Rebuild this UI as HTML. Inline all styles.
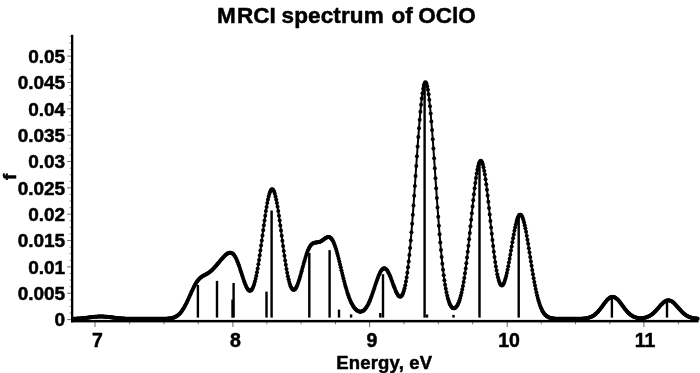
<!DOCTYPE html><html><head><meta charset="utf-8"><title>MRCI spectrum of OClO</title><style>html,body{margin:0;padding:0;background:#fff}svg{display:block}text{font-family:"Liberation Sans",sans-serif;font-weight:bold;fill:#000}</style></head><body>
<svg width="700" height="373" viewBox="0 0 700 373">
<rect width="700" height="373" fill="#fff"/>
<text y="23.4" font-size="22.5" stroke="#000" stroke-width="0.5" stroke-linejoin="round"><tspan x="217.0">M</tspan><tspan x="237.0">RCI</tspan> <tspan x="281.6" letter-spacing="0.12">spectrum</tspan> <tspan x="391.6">of</tspan> <tspan x="418.3">OClO</tspan></text>
<rect x="67.2" y="319.10" width="4" height="1" fill="#666"/>
<text x="65.2" y="326.30" font-size="19" text-anchor="end" stroke="#000" stroke-width="0.5" stroke-linejoin="round">0</text>
<rect x="67.2" y="292.75" width="4" height="1" fill="#666"/>
<text x="65.2" y="299.95" font-size="19" text-anchor="end" stroke="#000" stroke-width="0.5" stroke-linejoin="round">0.005</text>
<rect x="67.2" y="266.40" width="4" height="1" fill="#666"/>
<text x="65.2" y="273.60" font-size="19" text-anchor="end" stroke="#000" stroke-width="0.5" stroke-linejoin="round">0.01</text>
<rect x="67.2" y="240.05" width="4" height="1" fill="#666"/>
<text x="65.2" y="247.25" font-size="19" text-anchor="end" stroke="#000" stroke-width="0.5" stroke-linejoin="round">0.015</text>
<rect x="67.2" y="213.70" width="4" height="1" fill="#666"/>
<text x="65.2" y="220.90" font-size="19" text-anchor="end" stroke="#000" stroke-width="0.5" stroke-linejoin="round">0.02</text>
<rect x="67.2" y="187.35" width="4" height="1" fill="#666"/>
<text x="65.2" y="194.55" font-size="19" text-anchor="end" stroke="#000" stroke-width="0.5" stroke-linejoin="round">0.025</text>
<rect x="67.2" y="161.00" width="4" height="1" fill="#666"/>
<text x="65.2" y="168.20" font-size="19" text-anchor="end" stroke="#000" stroke-width="0.5" stroke-linejoin="round">0.03</text>
<rect x="67.2" y="134.65" width="4" height="1" fill="#666"/>
<text x="65.2" y="141.85" font-size="19" text-anchor="end" stroke="#000" stroke-width="0.5" stroke-linejoin="round">0.035</text>
<rect x="67.2" y="108.30" width="4" height="1" fill="#666"/>
<text x="65.2" y="115.50" font-size="19" text-anchor="end" stroke="#000" stroke-width="0.5" stroke-linejoin="round">0.04</text>
<rect x="67.2" y="81.95" width="4" height="1" fill="#666"/>
<text x="65.2" y="89.15" font-size="19" text-anchor="end" stroke="#000" stroke-width="0.5" stroke-linejoin="round">0.045</text>
<rect x="67.2" y="55.60" width="4" height="1" fill="#666"/>
<text x="65.2" y="62.80" font-size="19" text-anchor="end" stroke="#000" stroke-width="0.5" stroke-linejoin="round">0.05</text>
<rect x="69.5" y="312.51" width="1.6" height="1" fill="#888"/>
<rect x="69.5" y="305.93" width="1.6" height="1" fill="#888"/>
<rect x="69.5" y="299.34" width="1.6" height="1" fill="#888"/>
<rect x="69.5" y="286.16" width="1.6" height="1" fill="#888"/>
<rect x="69.5" y="279.58" width="1.6" height="1" fill="#888"/>
<rect x="69.5" y="272.99" width="1.6" height="1" fill="#888"/>
<rect x="69.5" y="259.81" width="1.6" height="1" fill="#888"/>
<rect x="69.5" y="253.23" width="1.6" height="1" fill="#888"/>
<rect x="69.5" y="246.64" width="1.6" height="1" fill="#888"/>
<rect x="69.5" y="233.46" width="1.6" height="1" fill="#888"/>
<rect x="69.5" y="226.88" width="1.6" height="1" fill="#888"/>
<rect x="69.5" y="220.29" width="1.6" height="1" fill="#888"/>
<rect x="69.5" y="207.11" width="1.6" height="1" fill="#888"/>
<rect x="69.5" y="200.53" width="1.6" height="1" fill="#888"/>
<rect x="69.5" y="193.94" width="1.6" height="1" fill="#888"/>
<rect x="69.5" y="180.76" width="1.6" height="1" fill="#888"/>
<rect x="69.5" y="174.18" width="1.6" height="1" fill="#888"/>
<rect x="69.5" y="167.59" width="1.6" height="1" fill="#888"/>
<rect x="69.5" y="154.41" width="1.6" height="1" fill="#888"/>
<rect x="69.5" y="147.83" width="1.6" height="1" fill="#888"/>
<rect x="69.5" y="141.24" width="1.6" height="1" fill="#888"/>
<rect x="69.5" y="128.06" width="1.6" height="1" fill="#888"/>
<rect x="69.5" y="121.48" width="1.6" height="1" fill="#888"/>
<rect x="69.5" y="114.89" width="1.6" height="1" fill="#888"/>
<rect x="69.5" y="101.71" width="1.6" height="1" fill="#888"/>
<rect x="69.5" y="95.12" width="1.6" height="1" fill="#888"/>
<rect x="69.5" y="88.54" width="1.6" height="1" fill="#888"/>
<rect x="69.5" y="75.36" width="1.6" height="1" fill="#888"/>
<rect x="69.5" y="68.78" width="1.6" height="1" fill="#888"/>
<rect x="69.5" y="62.19" width="1.6" height="1" fill="#888"/>
<rect x="69.5" y="49.01" width="1.6" height="1" fill="#888"/>
<rect x="69.5" y="42.43" width="1.6" height="1" fill="#888"/>
<rect x="69.5" y="35.84" width="1.6" height="1" fill="#888"/>
<rect x="94.50" y="322" width="1" height="5" fill="#666"/>
<text x="97.35" y="346.5" font-size="19.5" text-anchor="middle" stroke="#000" stroke-width="0.5" stroke-linejoin="round">7</text>
<rect x="232.40" y="322" width="1" height="5" fill="#666"/>
<text x="235.50" y="346.5" font-size="19.5" text-anchor="middle" stroke="#000" stroke-width="0.5" stroke-linejoin="round">8</text>
<rect x="369.10" y="322" width="1" height="5" fill="#666"/>
<text x="371.95" y="346.5" font-size="19.5" text-anchor="middle" stroke="#000" stroke-width="0.5" stroke-linejoin="round">9</text>
<rect x="506.70" y="322" width="1" height="5" fill="#666"/>
<text x="509.00" y="346.5" font-size="19.5" text-anchor="middle" stroke="#000" stroke-width="0.5" stroke-linejoin="round">10</text>
<rect x="643.40" y="322" width="1" height="5" fill="#666"/>
<text x="645.10" y="346.5" font-size="19.5" text-anchor="middle" stroke="#000" stroke-width="0.5" stroke-linejoin="round">11</text>
<rect x="129.13" y="322" width="1" height="2.3" fill="#777"/>
<rect x="163.43" y="322" width="1" height="2.3" fill="#777"/>
<rect x="197.73" y="322" width="1" height="2.3" fill="#777"/>
<rect x="266.33" y="322" width="1" height="2.3" fill="#777"/>
<rect x="300.63" y="322" width="1" height="2.3" fill="#777"/>
<rect x="334.93" y="322" width="1" height="2.3" fill="#777"/>
<rect x="403.53" y="322" width="1" height="2.3" fill="#777"/>
<rect x="437.83" y="322" width="1" height="2.3" fill="#777"/>
<rect x="472.13" y="322" width="1" height="2.3" fill="#777"/>
<rect x="540.73" y="322" width="1" height="2.3" fill="#777"/>
<rect x="575.03" y="322" width="1" height="2.3" fill="#777"/>
<rect x="609.33" y="322" width="1" height="2.3" fill="#777"/>
<rect x="677.93" y="322" width="1" height="2.3" fill="#777"/>
<text x="336.3" y="368.8" font-size="18.5" textLength="95.8" lengthAdjust="spacing" stroke="#000" stroke-width="0.5" stroke-linejoin="round">Energy, eV</text>
<text transform="translate(16.3,179.9) rotate(-90)" font-size="19" stroke="#000" stroke-width="0.5" stroke-linejoin="round">f</text>
<rect x="71" y="34.8" width="2.3" height="287.5" fill="#000"/>
<rect x="71" y="319.9" width="627.5" height="2.5" fill="#000"/>
<rect x="196.70" y="284.90" width="2.4" height="32.70" fill="#000"/>
<rect x="215.80" y="280.90" width="2.4" height="36.70" fill="#000"/>
<rect x="231.30" y="299.60" width="2.4" height="18.00" fill="#000"/>
<rect x="232.40" y="283.00" width="2.4" height="34.60" fill="#000"/>
<rect x="265.30" y="291.60" width="2.4" height="26.00" fill="#000"/>
<rect x="270.40" y="210.50" width="2.4" height="107.10" fill="#000"/>
<rect x="308.10" y="252.80" width="2.4" height="64.80" fill="#000"/>
<rect x="328.40" y="250.10" width="2.4" height="67.50" fill="#000"/>
<rect x="337.80" y="309.60" width="2.4" height="8.00" fill="#000"/>
<rect x="349.90" y="314.40" width="2.4" height="3.20" fill="#000"/>
<rect x="379.10" y="313.00" width="2.4" height="4.60" fill="#000"/>
<rect x="381.80" y="274.20" width="2.4" height="43.40" fill="#000"/>
<rect x="423.40" y="86.50" width="2.4" height="231.10" fill="#000"/>
<rect x="425.80" y="314.50" width="2.4" height="3.10" fill="#000"/>
<rect x="452.30" y="314.90" width="2.4" height="2.70" fill="#000"/>
<rect x="478.30" y="161.50" width="2.4" height="156.10" fill="#000"/>
<rect x="517.50" y="215.00" width="2.4" height="102.60" fill="#000"/>
<rect x="610.70" y="297.50" width="2.4" height="20.10" fill="#000"/>
<rect x="665.80" y="300.80" width="2.4" height="16.80" fill="#000"/>
<polyline fill="none" stroke="#000" stroke-width="2" stroke-linejoin="round" points="73.00,318.75 73.69,318.73 74.37,318.71 75.06,318.69 75.75,318.66 76.43,318.63 77.12,318.60 77.81,318.56 78.49,318.52 79.18,318.48 79.86,318.43 80.55,318.38 81.24,318.33 81.92,318.27 82.61,318.20 83.30,318.14 83.98,318.06 84.67,317.99 85.36,317.91 86.04,317.83 86.73,317.75 87.42,317.67 88.10,317.58 88.79,317.49 89.48,317.41 90.16,317.32 90.85,317.24 91.54,317.15 92.22,317.07 92.91,316.99 93.59,316.92 94.28,316.85 94.97,316.79 95.65,316.73 96.34,316.67 97.03,316.63 97.71,316.59 98.40,316.56 99.09,316.53 99.77,316.52 100.46,316.51 101.15,316.51 101.83,316.52 102.52,316.54 103.21,316.56 103.89,316.60 104.58,316.64 105.27,316.68 105.95,316.74 106.64,316.80 107.32,316.86 108.01,316.93 108.70,317.01 109.38,317.08 110.07,317.16 110.76,317.25 111.44,317.33 112.13,317.42 112.82,317.51 113.50,317.59 114.19,317.68 114.88,317.76 115.56,317.85 116.25,317.93 116.94,318.00 117.62,318.08 118.31,318.15 119.00,318.21 119.68,318.28 120.37,318.34 121.05,318.39 121.74,318.44 122.43,318.49 123.11,318.53 123.80,318.57 124.49,318.61 125.17,318.64 125.86,318.67 126.55,318.69 127.23,318.71 127.92,318.73 128.61,318.75 129.29,318.77 129.98,318.78 130.67,318.79 131.35,318.80 132.04,318.81 132.73,318.82 133.41,318.82 134.10,318.83 134.78,318.83 135.47,318.83 136.16,318.84 136.84,318.84 137.53,318.84 138.22,318.84 138.90,318.85 139.59,318.85 140.28,318.85 140.96,318.85 141.65,318.85 142.34,318.85 143.02,318.85 143.71,318.85 144.40,318.85 145.08,318.85 145.77,318.85 146.46,318.85 147.14,318.85 147.83,318.85 148.51,318.85 149.20,318.85 149.89,318.85 150.57,318.85 151.26,318.85 151.95,318.85 152.63,318.85 153.32,318.85 154.01,318.85 154.69,318.85 155.38,318.85 156.07,318.85 156.75,318.85 157.44,318.85 158.13,318.84 158.81,318.84 159.50,318.84 160.19,318.83 160.87,318.83 161.56,318.82 162.24,318.82 162.93,318.81 163.62,318.79 164.30,318.78 164.99,318.76 165.68,318.73 166.36,318.70 167.05,318.66 167.74,318.61 168.42,318.56 169.11,318.49 169.80,318.40 170.48,318.30 171.17,318.18 171.86,318.04 172.54,317.87 173.23,317.67 173.92,317.44 174.60,317.17 175.29,316.86 175.97,316.51 176.66,316.10 177.35,315.64 178.03,315.12 178.72,314.54 179.41,313.89 180.09,313.18 180.78,312.39 181.47,311.52 182.15,310.58 182.84,309.56 183.53,308.47 184.21,307.30 184.90,306.07 185.59,304.76 186.27,303.40 186.96,301.98 187.65,300.52 188.33,299.02 189.02,297.50 189.70,295.96 190.39,294.41 191.08,292.88 191.76,291.37 192.45,289.89 193.14,288.45 193.82,287.07 194.51,285.75 195.20,284.51 195.88,283.34 196.57,282.25 197.26,281.26 197.94,280.35 198.63,279.52 199.32,278.78 200.00,278.12 200.69,277.53 201.38,277.00 202.06,276.53 202.75,276.10 203.43,275.71 204.12,275.33 204.81,274.98 205.49,274.62 206.18,274.25 206.87,273.87 207.55,273.47 208.24,273.03 208.93,272.57 209.61,272.06 210.30,271.52 210.99,270.93 211.67,270.31 212.36,269.65 213.05,268.96 213.73,268.24 214.42,267.50 215.11,266.73 215.79,265.95 216.48,265.15 217.16,264.34 217.85,263.53 218.54,262.72 219.22,261.90 219.91,261.09 220.60,260.29 221.28,259.49 221.97,258.71 222.66,257.94 223.34,257.20 224.03,256.48 224.72,255.79 225.40,255.15 226.09,254.56 226.78,254.02 227.46,253.56 228.15,253.18 228.84,252.89 229.52,252.71 230.21,252.66 230.89,252.73 231.58,252.95 232.27,253.33 232.95,253.86 233.64,254.57 234.33,255.44 235.01,256.49 235.70,257.71 236.39,259.10 237.07,260.64 237.76,262.32 238.45,264.14 239.13,266.07 239.82,268.09 240.51,270.18 241.19,272.31 241.88,274.45 242.57,276.59 243.25,278.68 243.94,280.69 244.62,282.61 245.31,284.39 246.00,286.01 246.68,287.44 247.37,288.65 248.06,289.61 248.74,290.30 249.43,290.71 250.12,290.80 250.80,290.56 251.49,289.98 252.18,289.04 252.86,287.73 253.55,286.06 254.24,284.01 254.92,281.59 255.61,278.80 256.30,275.66 256.98,272.18 257.67,268.38 258.35,264.29 259.04,259.92 259.73,255.33 260.41,250.54 261.10,245.60 261.79,240.55 262.47,235.45 263.16,230.35 263.85,225.31 264.53,220.39 265.22,215.64 265.91,211.12 266.59,206.89 267.28,203.00 267.97,199.52 268.65,196.48 269.34,193.92 270.03,191.89 270.71,190.42 271.40,189.52 272.08,189.21 272.77,189.49 273.46,190.37 274.14,191.82 274.83,193.83 275.52,196.38 276.20,199.42 276.89,202.92 277.58,206.83 278.26,211.09 278.95,215.65 279.64,220.45 280.32,225.43 281.01,230.54 281.70,235.70 282.38,240.86 283.07,245.97 283.76,250.97 284.44,255.80 285.13,260.43 285.81,264.82 286.50,268.92 287.19,272.70 287.87,276.15 288.56,279.23 289.25,281.93 289.93,284.24 290.62,286.15 291.31,287.66 291.99,288.77 292.68,289.49 293.37,289.83 294.05,289.79 294.74,289.40 295.43,288.67 296.11,287.63 296.80,286.30 297.49,284.70 298.17,282.87 298.86,280.84 299.55,278.63 300.23,276.29 300.92,273.85 301.60,271.33 302.29,268.78 302.98,266.23 303.66,263.72 304.35,261.26 305.04,258.90 305.72,256.66 306.41,254.55 307.10,252.61 307.78,250.84 308.47,249.25 309.16,247.85 309.84,246.64 310.53,245.62 311.22,244.78 311.90,244.10 312.59,243.58 313.28,243.18 313.96,242.90 314.65,242.71 315.33,242.58 316.02,242.49 316.71,242.41 317.39,242.34 318.08,242.24 318.77,242.10 319.45,241.92 320.14,241.67 320.83,241.36 321.51,241.00 322.20,240.57 322.89,240.11 323.57,239.61 324.26,239.10 324.95,238.59 325.63,238.12 326.32,237.70 327.01,237.36 327.69,237.12 328.38,237.02 329.06,237.07 329.75,237.30 330.44,237.71 331.12,238.33 331.81,239.17 332.50,240.23 333.18,241.52 333.87,243.03 334.56,244.75 335.24,246.68 335.93,248.80 336.62,251.10 337.30,253.54 337.99,256.12 338.68,258.81 339.36,261.58 340.05,264.41 340.74,267.28 341.42,270.15 342.11,273.01 342.79,275.83 343.48,278.61 344.17,281.30 344.85,283.92 345.54,286.43 346.23,288.83 346.91,291.12 347.60,293.28 348.29,295.31 348.97,297.22 349.66,298.99 350.35,300.63 351.03,302.14 351.72,303.53 352.41,304.80 353.09,305.95 353.78,306.99 354.47,307.92 355.15,308.74 355.84,309.45 356.52,310.07 357.21,310.58 357.90,311.00 358.58,311.31 359.27,311.53 359.96,311.65 360.64,311.66 361.33,311.57 362.02,311.37 362.70,311.05 363.39,310.63 364.08,310.08 364.76,309.41 365.45,308.61 366.14,307.69 366.82,306.64 367.51,305.47 368.20,304.16 368.88,302.74 369.57,301.19 370.25,299.53 370.94,297.77 371.63,295.92 372.31,293.99 373.00,292.00 373.69,289.95 374.37,287.88 375.06,285.81 375.75,283.75 376.43,281.72 377.12,279.76 377.81,277.88 378.49,276.12 379.18,274.48 379.87,273.00 380.55,271.70 381.24,270.58 381.93,269.68 382.61,269.00 383.30,268.55 383.98,268.34 384.67,268.37 385.36,268.64 386.04,269.14 386.73,269.87 387.42,270.81 388.10,271.95 388.79,273.27 389.48,274.76 390.16,276.37 390.85,278.10 391.54,279.90 392.22,281.76 392.91,283.64 393.60,285.50 394.28,287.33 394.97,289.08 395.66,290.73 396.34,292.24 397.03,293.58 397.71,294.72 398.40,295.63 399.09,296.27 399.77,296.62 400.46,296.64 401.15,296.31 401.83,295.59 402.52,294.45 403.21,292.87 403.89,290.82 404.58,288.27 405.27,285.20 405.95,281.59 406.64,277.43 407.33,272.69 408.01,267.37 408.70,261.48 409.39,255.01 410.07,247.98 410.76,240.40 411.44,232.32 412.13,223.77 412.82,214.80 413.50,205.47 414.19,195.86 414.88,186.03 415.56,176.08 416.25,166.11 416.94,156.22 417.62,146.52 418.31,137.12 419.00,128.13 419.68,119.67 420.37,111.84 421.06,104.75 421.74,98.50 422.43,93.16 423.12,88.83 423.80,85.56 424.49,83.40 425.17,82.37 425.86,82.50 426.55,83.79 427.23,86.20 427.92,89.72 428.61,94.28 429.29,99.82 429.98,106.27 430.67,113.52 431.35,121.50 432.04,130.08 432.73,139.16 433.41,148.62 434.10,158.37 434.79,168.28 435.47,178.24 436.16,188.17 436.85,197.97 437.53,207.55 438.22,216.84 438.90,225.78 439.59,234.30 440.28,242.38 440.96,249.97 441.65,257.06 442.34,263.63 443.02,269.67 443.71,275.19 444.40,280.19 445.08,284.70 445.77,288.72 446.46,292.29 447.14,295.43 447.83,298.15 448.52,300.50 449.20,302.49 449.89,304.15 450.58,305.51 451.26,306.58 451.95,307.38 452.63,307.92 453.32,308.23 454.01,308.30 454.69,308.13 455.38,307.74 456.07,307.12 456.75,306.26 457.44,305.16 458.13,303.79 458.81,302.17 459.50,300.25 460.19,298.05 460.87,295.53 461.56,292.69 462.25,289.51 462.93,285.99 463.62,282.12 464.31,277.90 464.99,273.32 465.68,268.40 466.36,263.16 467.05,257.60 467.74,251.76 468.42,245.66 469.11,239.37 469.80,232.91 470.48,226.34 471.17,219.72 471.86,213.13 472.54,206.62 473.23,200.28 473.92,194.17 474.60,188.37 475.29,182.96 475.98,178.00 476.66,173.57 477.35,169.72 478.04,166.51 478.72,163.98 479.41,162.18 480.09,161.13 480.78,160.84 481.47,161.33 482.15,162.57 482.84,164.56 483.53,167.25 484.21,170.63 484.90,174.62 485.59,179.19 486.27,184.25 486.96,189.74 487.65,195.59 488.33,201.72 489.02,208.05 489.71,214.50 490.39,221.00 491.08,227.46 491.77,233.83 492.45,240.02 493.14,245.98 493.82,251.66 494.51,257.00 495.20,261.96 495.88,266.51 496.57,270.61 497.26,274.23 497.94,277.36 498.63,279.99 499.32,282.10 500.00,283.69 500.69,284.77 501.38,285.33 502.06,285.38 502.75,284.94 503.44,284.02 504.12,282.65 504.81,280.83 505.50,278.62 506.18,276.02 506.87,273.08 507.55,269.83 508.24,266.32 508.93,262.58 509.61,258.67 510.30,254.64 510.99,250.54 511.67,246.41 512.36,242.33 513.05,238.34 513.73,234.50 514.42,230.86 515.11,227.48 515.79,224.41 516.48,221.70 517.17,219.37 517.85,217.48 518.54,216.05 519.23,215.09 519.91,214.64 520.60,214.70 521.28,215.26 521.97,216.32 522.66,217.86 523.34,219.86 524.03,222.30 524.72,225.14 525.40,228.35 526.09,231.86 526.78,235.66 527.46,239.67 528.15,243.86 528.84,248.18 529.52,252.57 530.21,257.00 530.90,261.41 531.58,265.77 532.27,270.03 532.96,274.18 533.64,278.17 534.33,281.99 535.01,285.61 535.70,289.02 536.39,292.22 537.07,295.19 537.76,297.93 538.45,300.44 539.13,302.73 539.82,304.81 540.51,306.67 541.19,308.34 541.88,309.83 542.57,311.14 543.25,312.30 543.94,313.31 544.63,314.18 545.31,314.94 546.00,315.59 546.69,316.15 547.37,316.62 548.06,317.02 548.74,317.35 549.43,317.63 550.12,317.86 550.80,318.06 551.49,318.21 552.18,318.34 552.86,318.45 553.55,318.53 554.24,318.60 554.92,318.65 555.61,318.70 556.30,318.73 556.98,318.76 557.67,318.78 558.36,318.80 559.04,318.81 559.73,318.82 560.42,318.83 561.10,318.83 561.79,318.84 562.47,318.84 563.16,318.84 563.85,318.84 564.53,318.85 565.22,318.85 565.91,318.85 566.59,318.85 567.28,318.85 567.97,318.85 568.65,318.85 569.34,318.85 570.03,318.85 570.71,318.85 571.40,318.85 572.09,318.85 572.77,318.84 573.46,318.84 574.15,318.84 574.83,318.84 575.52,318.83 576.20,318.83 576.89,318.82 577.58,318.81 578.26,318.80 578.95,318.79 579.64,318.77 580.32,318.75 581.01,318.73 581.70,318.70 582.38,318.66 583.07,318.62 583.76,318.56 584.44,318.50 585.13,318.42 585.82,318.32 586.50,318.22 587.19,318.09 587.88,317.94 588.56,317.76 589.25,317.56 589.93,317.33 590.62,317.07 591.31,316.77 591.99,316.44 592.68,316.06 593.37,315.64 594.05,315.18 594.74,314.67 595.43,314.11 596.11,313.51 596.80,312.85 597.49,312.15 598.17,311.41 598.86,310.62 599.55,309.79 600.23,308.93 600.92,308.04 601.61,307.13 602.29,306.20 602.98,305.26 603.66,304.33 604.35,303.41 605.04,302.52 605.72,301.65 606.41,300.83 607.10,300.06 607.78,299.35 608.47,298.72 609.16,298.17 609.84,297.70 610.53,297.34 611.22,297.07 611.90,296.91 612.59,296.85 613.28,296.90 613.96,297.06 614.65,297.33 615.34,297.69 616.02,298.15 616.71,298.70 617.39,299.33 618.08,300.04 618.77,300.80 619.45,301.62 620.14,302.49 620.83,303.38 621.51,304.30 622.20,305.23 622.89,306.17 623.57,307.10 624.26,308.01 624.95,308.90 625.63,309.76 626.32,310.59 627.01,311.38 627.69,312.13 628.38,312.83 629.07,313.48 629.75,314.09 630.44,314.64 631.12,315.15 631.81,315.61 632.50,316.03 633.18,316.40 633.87,316.73 634.56,317.01 635.24,317.26 635.93,317.48 636.62,317.66 637.30,317.81 637.99,317.93 638.68,318.03 639.36,318.09 640.05,318.13 640.74,318.15 641.42,318.14 642.11,318.11 642.80,318.05 643.48,317.97 644.17,317.86 644.85,317.72 645.54,317.55 646.23,317.36 646.91,317.13 647.60,316.87 648.29,316.57 648.97,316.23 649.66,315.86 650.35,315.45 651.03,314.99 651.72,314.50 652.41,313.96 653.09,313.38 653.78,312.77 654.47,312.12 655.15,311.43 655.84,310.71 656.53,309.97 657.21,309.21 657.90,308.43 658.58,307.65 659.27,306.86 659.96,306.08 660.64,305.32 661.33,304.59 662.02,303.89 662.70,303.23 663.39,302.62 664.08,302.07 664.76,301.58 665.45,301.17 666.14,300.84 666.82,300.59 667.51,300.43 668.20,300.35 668.88,300.37 669.57,300.48 670.26,300.68 670.94,300.96 671.63,301.33 672.31,301.77 673.00,302.28 673.69,302.86 674.37,303.49 675.06,304.17 675.75,304.88 676.43,305.63 677.12,306.40 677.81,307.18 678.49,307.96 679.18,308.75 679.87,309.52 680.55,310.27 681.24,311.01 681.93,311.71 682.61,312.39 683.30,313.02 683.99,313.63 684.67,314.19 685.36,314.71 686.04,315.19 686.73,315.63 687.42,316.04 688.10,316.40 688.79,316.73 689.48,317.02 690.16,317.28 690.85,317.51 691.54,317.71 692.22,317.89 692.91,318.04 693.60,318.17 694.28,318.28 694.97,318.38 695.66,318.46 696.34,318.53 697.03,318.59 697.72,318.64"/>
<g fill="#000">
<circle cx="73.00" cy="318.75" r="2"/>
<circle cx="73.69" cy="318.73" r="2"/>
<circle cx="74.37" cy="318.71" r="2"/>
<circle cx="75.06" cy="318.69" r="2"/>
<circle cx="75.75" cy="318.66" r="2"/>
<circle cx="76.43" cy="318.63" r="2"/>
<circle cx="77.12" cy="318.60" r="2"/>
<circle cx="77.81" cy="318.56" r="2"/>
<circle cx="78.49" cy="318.52" r="2"/>
<circle cx="79.18" cy="318.48" r="2"/>
<circle cx="79.86" cy="318.43" r="2"/>
<circle cx="80.55" cy="318.38" r="2"/>
<circle cx="81.24" cy="318.33" r="2"/>
<circle cx="81.92" cy="318.27" r="2"/>
<circle cx="82.61" cy="318.20" r="2"/>
<circle cx="83.30" cy="318.14" r="2"/>
<circle cx="83.98" cy="318.06" r="2"/>
<circle cx="84.67" cy="317.99" r="2"/>
<circle cx="85.36" cy="317.91" r="2"/>
<circle cx="86.04" cy="317.83" r="2"/>
<circle cx="86.73" cy="317.75" r="2"/>
<circle cx="87.42" cy="317.67" r="2"/>
<circle cx="88.10" cy="317.58" r="2"/>
<circle cx="88.79" cy="317.49" r="2"/>
<circle cx="89.48" cy="317.41" r="2"/>
<circle cx="90.16" cy="317.32" r="2"/>
<circle cx="90.85" cy="317.24" r="2"/>
<circle cx="91.54" cy="317.15" r="2"/>
<circle cx="92.22" cy="317.07" r="2"/>
<circle cx="92.91" cy="316.99" r="2"/>
<circle cx="93.59" cy="316.92" r="2"/>
<circle cx="94.28" cy="316.85" r="2"/>
<circle cx="94.97" cy="316.79" r="2"/>
<circle cx="95.65" cy="316.73" r="2"/>
<circle cx="96.34" cy="316.67" r="2"/>
<circle cx="97.03" cy="316.63" r="2"/>
<circle cx="97.71" cy="316.59" r="2"/>
<circle cx="98.40" cy="316.56" r="2"/>
<circle cx="99.09" cy="316.53" r="2"/>
<circle cx="99.77" cy="316.52" r="2"/>
<circle cx="100.46" cy="316.51" r="2"/>
<circle cx="101.15" cy="316.51" r="2"/>
<circle cx="101.83" cy="316.52" r="2"/>
<circle cx="102.52" cy="316.54" r="2"/>
<circle cx="103.21" cy="316.56" r="2"/>
<circle cx="103.89" cy="316.60" r="2"/>
<circle cx="104.58" cy="316.64" r="2"/>
<circle cx="105.27" cy="316.68" r="2"/>
<circle cx="105.95" cy="316.74" r="2"/>
<circle cx="106.64" cy="316.80" r="2"/>
<circle cx="107.32" cy="316.86" r="2"/>
<circle cx="108.01" cy="316.93" r="2"/>
<circle cx="108.70" cy="317.01" r="2"/>
<circle cx="109.38" cy="317.08" r="2"/>
<circle cx="110.07" cy="317.16" r="2"/>
<circle cx="110.76" cy="317.25" r="2"/>
<circle cx="111.44" cy="317.33" r="2"/>
<circle cx="112.13" cy="317.42" r="2"/>
<circle cx="112.82" cy="317.51" r="2"/>
<circle cx="113.50" cy="317.59" r="2"/>
<circle cx="114.19" cy="317.68" r="2"/>
<circle cx="114.88" cy="317.76" r="2"/>
<circle cx="115.56" cy="317.85" r="2"/>
<circle cx="116.25" cy="317.93" r="2"/>
<circle cx="116.94" cy="318.00" r="2"/>
<circle cx="117.62" cy="318.08" r="2"/>
<circle cx="118.31" cy="318.15" r="2"/>
<circle cx="119.00" cy="318.21" r="2"/>
<circle cx="119.68" cy="318.28" r="2"/>
<circle cx="120.37" cy="318.34" r="2"/>
<circle cx="121.05" cy="318.39" r="2"/>
<circle cx="121.74" cy="318.44" r="2"/>
<circle cx="122.43" cy="318.49" r="2"/>
<circle cx="123.11" cy="318.53" r="2"/>
<circle cx="123.80" cy="318.57" r="2"/>
<circle cx="124.49" cy="318.61" r="2"/>
<circle cx="125.17" cy="318.64" r="2"/>
<circle cx="125.86" cy="318.67" r="2"/>
<circle cx="126.55" cy="318.69" r="2"/>
<circle cx="127.23" cy="318.71" r="2"/>
<circle cx="127.92" cy="318.73" r="2"/>
<circle cx="128.61" cy="318.75" r="2"/>
<circle cx="129.29" cy="318.77" r="2"/>
<circle cx="129.98" cy="318.78" r="2"/>
<circle cx="130.67" cy="318.79" r="2"/>
<circle cx="131.35" cy="318.80" r="2"/>
<circle cx="132.04" cy="318.81" r="2"/>
<circle cx="132.73" cy="318.82" r="2"/>
<circle cx="133.41" cy="318.82" r="2"/>
<circle cx="134.10" cy="318.83" r="2"/>
<circle cx="134.78" cy="318.83" r="2"/>
<circle cx="135.47" cy="318.83" r="2"/>
<circle cx="136.16" cy="318.84" r="2"/>
<circle cx="136.84" cy="318.84" r="2"/>
<circle cx="137.53" cy="318.84" r="2"/>
<circle cx="138.22" cy="318.84" r="2"/>
<circle cx="138.90" cy="318.85" r="2"/>
<circle cx="139.59" cy="318.85" r="2"/>
<circle cx="140.28" cy="318.85" r="2"/>
<circle cx="140.96" cy="318.85" r="2"/>
<circle cx="141.65" cy="318.85" r="2"/>
<circle cx="142.34" cy="318.85" r="2"/>
<circle cx="143.02" cy="318.85" r="2"/>
<circle cx="143.71" cy="318.85" r="2"/>
<circle cx="144.40" cy="318.85" r="2"/>
<circle cx="145.08" cy="318.85" r="2"/>
<circle cx="145.77" cy="318.85" r="2"/>
<circle cx="146.46" cy="318.85" r="2"/>
<circle cx="147.14" cy="318.85" r="2"/>
<circle cx="147.83" cy="318.85" r="2"/>
<circle cx="148.51" cy="318.85" r="2"/>
<circle cx="149.20" cy="318.85" r="2"/>
<circle cx="149.89" cy="318.85" r="2"/>
<circle cx="150.57" cy="318.85" r="2"/>
<circle cx="151.26" cy="318.85" r="2"/>
<circle cx="151.95" cy="318.85" r="2"/>
<circle cx="152.63" cy="318.85" r="2"/>
<circle cx="153.32" cy="318.85" r="2"/>
<circle cx="154.01" cy="318.85" r="2"/>
<circle cx="154.69" cy="318.85" r="2"/>
<circle cx="155.38" cy="318.85" r="2"/>
<circle cx="156.07" cy="318.85" r="2"/>
<circle cx="156.75" cy="318.85" r="2"/>
<circle cx="157.44" cy="318.85" r="2"/>
<circle cx="158.13" cy="318.84" r="2"/>
<circle cx="158.81" cy="318.84" r="2"/>
<circle cx="159.50" cy="318.84" r="2"/>
<circle cx="160.19" cy="318.83" r="2"/>
<circle cx="160.87" cy="318.83" r="2"/>
<circle cx="161.56" cy="318.82" r="2"/>
<circle cx="162.24" cy="318.82" r="2"/>
<circle cx="162.93" cy="318.81" r="2"/>
<circle cx="163.62" cy="318.79" r="2"/>
<circle cx="164.30" cy="318.78" r="2"/>
<circle cx="164.99" cy="318.76" r="2"/>
<circle cx="165.68" cy="318.73" r="2"/>
<circle cx="166.36" cy="318.70" r="2"/>
<circle cx="167.05" cy="318.66" r="2"/>
<circle cx="167.74" cy="318.61" r="2"/>
<circle cx="168.42" cy="318.56" r="2"/>
<circle cx="169.11" cy="318.49" r="2"/>
<circle cx="169.80" cy="318.40" r="2"/>
<circle cx="170.48" cy="318.30" r="2"/>
<circle cx="171.17" cy="318.18" r="2"/>
<circle cx="171.86" cy="318.04" r="2"/>
<circle cx="172.54" cy="317.87" r="2"/>
<circle cx="173.23" cy="317.67" r="2"/>
<circle cx="173.92" cy="317.44" r="2"/>
<circle cx="174.60" cy="317.17" r="2"/>
<circle cx="175.29" cy="316.86" r="2"/>
<circle cx="175.97" cy="316.51" r="2"/>
<circle cx="176.66" cy="316.10" r="2"/>
<circle cx="177.35" cy="315.64" r="2"/>
<circle cx="178.03" cy="315.12" r="2"/>
<circle cx="178.72" cy="314.54" r="2"/>
<circle cx="179.41" cy="313.89" r="2"/>
<circle cx="180.09" cy="313.18" r="2"/>
<circle cx="180.78" cy="312.39" r="2"/>
<circle cx="181.47" cy="311.52" r="2"/>
<circle cx="182.15" cy="310.58" r="2"/>
<circle cx="182.84" cy="309.56" r="2"/>
<circle cx="183.53" cy="308.47" r="2"/>
<circle cx="184.21" cy="307.30" r="2"/>
<circle cx="184.90" cy="306.07" r="2"/>
<circle cx="185.59" cy="304.76" r="2"/>
<circle cx="186.27" cy="303.40" r="2"/>
<circle cx="186.96" cy="301.98" r="2"/>
<circle cx="187.65" cy="300.52" r="2"/>
<circle cx="188.33" cy="299.02" r="2"/>
<circle cx="189.02" cy="297.50" r="2"/>
<circle cx="189.70" cy="295.96" r="2"/>
<circle cx="190.39" cy="294.41" r="2"/>
<circle cx="191.08" cy="292.88" r="2"/>
<circle cx="191.76" cy="291.37" r="2"/>
<circle cx="192.45" cy="289.89" r="2"/>
<circle cx="193.14" cy="288.45" r="2"/>
<circle cx="193.82" cy="287.07" r="2"/>
<circle cx="194.51" cy="285.75" r="2"/>
<circle cx="195.20" cy="284.51" r="2"/>
<circle cx="195.88" cy="283.34" r="2"/>
<circle cx="196.57" cy="282.25" r="2"/>
<circle cx="197.26" cy="281.26" r="2"/>
<circle cx="197.94" cy="280.35" r="2"/>
<circle cx="198.63" cy="279.52" r="2"/>
<circle cx="199.32" cy="278.78" r="2"/>
<circle cx="200.00" cy="278.12" r="2"/>
<circle cx="200.69" cy="277.53" r="2"/>
<circle cx="201.38" cy="277.00" r="2"/>
<circle cx="202.06" cy="276.53" r="2"/>
<circle cx="202.75" cy="276.10" r="2"/>
<circle cx="203.43" cy="275.71" r="2"/>
<circle cx="204.12" cy="275.33" r="2"/>
<circle cx="204.81" cy="274.98" r="2"/>
<circle cx="205.49" cy="274.62" r="2"/>
<circle cx="206.18" cy="274.25" r="2"/>
<circle cx="206.87" cy="273.87" r="2"/>
<circle cx="207.55" cy="273.47" r="2"/>
<circle cx="208.24" cy="273.03" r="2"/>
<circle cx="208.93" cy="272.57" r="2"/>
<circle cx="209.61" cy="272.06" r="2"/>
<circle cx="210.30" cy="271.52" r="2"/>
<circle cx="210.99" cy="270.93" r="2"/>
<circle cx="211.67" cy="270.31" r="2"/>
<circle cx="212.36" cy="269.65" r="2"/>
<circle cx="213.05" cy="268.96" r="2"/>
<circle cx="213.73" cy="268.24" r="2"/>
<circle cx="214.42" cy="267.50" r="2"/>
<circle cx="215.11" cy="266.73" r="2"/>
<circle cx="215.79" cy="265.95" r="2"/>
<circle cx="216.48" cy="265.15" r="2"/>
<circle cx="217.16" cy="264.34" r="2"/>
<circle cx="217.85" cy="263.53" r="2"/>
<circle cx="218.54" cy="262.72" r="2"/>
<circle cx="219.22" cy="261.90" r="2"/>
<circle cx="219.91" cy="261.09" r="2"/>
<circle cx="220.60" cy="260.29" r="2"/>
<circle cx="221.28" cy="259.49" r="2"/>
<circle cx="221.97" cy="258.71" r="2"/>
<circle cx="222.66" cy="257.94" r="2"/>
<circle cx="223.34" cy="257.20" r="2"/>
<circle cx="224.03" cy="256.48" r="2"/>
<circle cx="224.72" cy="255.79" r="2"/>
<circle cx="225.40" cy="255.15" r="2"/>
<circle cx="226.09" cy="254.56" r="2"/>
<circle cx="226.78" cy="254.02" r="2"/>
<circle cx="227.46" cy="253.56" r="2"/>
<circle cx="228.15" cy="253.18" r="2"/>
<circle cx="228.84" cy="252.89" r="2"/>
<circle cx="229.52" cy="252.71" r="2"/>
<circle cx="230.21" cy="252.66" r="2"/>
<circle cx="230.89" cy="252.73" r="2"/>
<circle cx="231.58" cy="252.95" r="2"/>
<circle cx="232.27" cy="253.33" r="2"/>
<circle cx="232.95" cy="253.86" r="2"/>
<circle cx="233.64" cy="254.57" r="2"/>
<circle cx="234.33" cy="255.44" r="2"/>
<circle cx="235.01" cy="256.49" r="2"/>
<circle cx="235.70" cy="257.71" r="2"/>
<circle cx="236.39" cy="259.10" r="2"/>
<circle cx="237.07" cy="260.64" r="2"/>
<circle cx="237.76" cy="262.32" r="2"/>
<circle cx="238.45" cy="264.14" r="2"/>
<circle cx="239.13" cy="266.07" r="2"/>
<circle cx="239.82" cy="268.09" r="2"/>
<circle cx="240.51" cy="270.18" r="2"/>
<circle cx="241.19" cy="272.31" r="2"/>
<circle cx="241.88" cy="274.45" r="2"/>
<circle cx="242.57" cy="276.59" r="2"/>
<circle cx="243.25" cy="278.68" r="2"/>
<circle cx="243.94" cy="280.69" r="2"/>
<circle cx="244.62" cy="282.61" r="2"/>
<circle cx="245.31" cy="284.39" r="2"/>
<circle cx="246.00" cy="286.01" r="2"/>
<circle cx="246.68" cy="287.44" r="2"/>
<circle cx="247.37" cy="288.65" r="2"/>
<circle cx="248.06" cy="289.61" r="2"/>
<circle cx="248.74" cy="290.30" r="2"/>
<circle cx="249.43" cy="290.71" r="2"/>
<circle cx="250.12" cy="290.80" r="2"/>
<circle cx="250.80" cy="290.56" r="2"/>
<circle cx="251.49" cy="289.98" r="2"/>
<circle cx="252.18" cy="289.04" r="2"/>
<circle cx="252.86" cy="287.73" r="2"/>
<circle cx="253.55" cy="286.06" r="2"/>
<circle cx="254.24" cy="284.01" r="2"/>
<circle cx="254.92" cy="281.59" r="2"/>
<circle cx="255.61" cy="278.80" r="2"/>
<circle cx="256.30" cy="275.66" r="2"/>
<circle cx="256.98" cy="272.18" r="2"/>
<circle cx="257.67" cy="268.38" r="2"/>
<circle cx="258.35" cy="264.29" r="2"/>
<circle cx="259.04" cy="259.92" r="2"/>
<circle cx="259.73" cy="255.33" r="2"/>
<circle cx="260.41" cy="250.54" r="2"/>
<circle cx="261.10" cy="245.60" r="2"/>
<circle cx="261.79" cy="240.55" r="2"/>
<circle cx="262.47" cy="235.45" r="2"/>
<circle cx="263.16" cy="230.35" r="2"/>
<circle cx="263.85" cy="225.31" r="2"/>
<circle cx="264.53" cy="220.39" r="2"/>
<circle cx="265.22" cy="215.64" r="2"/>
<circle cx="265.91" cy="211.12" r="2"/>
<circle cx="266.59" cy="206.89" r="2"/>
<circle cx="267.28" cy="203.00" r="2"/>
<circle cx="267.97" cy="199.52" r="2"/>
<circle cx="268.65" cy="196.48" r="2"/>
<circle cx="269.34" cy="193.92" r="2"/>
<circle cx="270.03" cy="191.89" r="2"/>
<circle cx="270.71" cy="190.42" r="2"/>
<circle cx="271.40" cy="189.52" r="2"/>
<circle cx="272.08" cy="189.21" r="2"/>
<circle cx="272.77" cy="189.49" r="2"/>
<circle cx="273.46" cy="190.37" r="2"/>
<circle cx="274.14" cy="191.82" r="2"/>
<circle cx="274.83" cy="193.83" r="2"/>
<circle cx="275.52" cy="196.38" r="2"/>
<circle cx="276.20" cy="199.42" r="2"/>
<circle cx="276.89" cy="202.92" r="2"/>
<circle cx="277.58" cy="206.83" r="2"/>
<circle cx="278.26" cy="211.09" r="2"/>
<circle cx="278.95" cy="215.65" r="2"/>
<circle cx="279.64" cy="220.45" r="2"/>
<circle cx="280.32" cy="225.43" r="2"/>
<circle cx="281.01" cy="230.54" r="2"/>
<circle cx="281.70" cy="235.70" r="2"/>
<circle cx="282.38" cy="240.86" r="2"/>
<circle cx="283.07" cy="245.97" r="2"/>
<circle cx="283.76" cy="250.97" r="2"/>
<circle cx="284.44" cy="255.80" r="2"/>
<circle cx="285.13" cy="260.43" r="2"/>
<circle cx="285.81" cy="264.82" r="2"/>
<circle cx="286.50" cy="268.92" r="2"/>
<circle cx="287.19" cy="272.70" r="2"/>
<circle cx="287.87" cy="276.15" r="2"/>
<circle cx="288.56" cy="279.23" r="2"/>
<circle cx="289.25" cy="281.93" r="2"/>
<circle cx="289.93" cy="284.24" r="2"/>
<circle cx="290.62" cy="286.15" r="2"/>
<circle cx="291.31" cy="287.66" r="2"/>
<circle cx="291.99" cy="288.77" r="2"/>
<circle cx="292.68" cy="289.49" r="2"/>
<circle cx="293.37" cy="289.83" r="2"/>
<circle cx="294.05" cy="289.79" r="2"/>
<circle cx="294.74" cy="289.40" r="2"/>
<circle cx="295.43" cy="288.67" r="2"/>
<circle cx="296.11" cy="287.63" r="2"/>
<circle cx="296.80" cy="286.30" r="2"/>
<circle cx="297.49" cy="284.70" r="2"/>
<circle cx="298.17" cy="282.87" r="2"/>
<circle cx="298.86" cy="280.84" r="2"/>
<circle cx="299.55" cy="278.63" r="2"/>
<circle cx="300.23" cy="276.29" r="2"/>
<circle cx="300.92" cy="273.85" r="2"/>
<circle cx="301.60" cy="271.33" r="2"/>
<circle cx="302.29" cy="268.78" r="2"/>
<circle cx="302.98" cy="266.23" r="2"/>
<circle cx="303.66" cy="263.72" r="2"/>
<circle cx="304.35" cy="261.26" r="2"/>
<circle cx="305.04" cy="258.90" r="2"/>
<circle cx="305.72" cy="256.66" r="2"/>
<circle cx="306.41" cy="254.55" r="2"/>
<circle cx="307.10" cy="252.61" r="2"/>
<circle cx="307.78" cy="250.84" r="2"/>
<circle cx="308.47" cy="249.25" r="2"/>
<circle cx="309.16" cy="247.85" r="2"/>
<circle cx="309.84" cy="246.64" r="2"/>
<circle cx="310.53" cy="245.62" r="2"/>
<circle cx="311.22" cy="244.78" r="2"/>
<circle cx="311.90" cy="244.10" r="2"/>
<circle cx="312.59" cy="243.58" r="2"/>
<circle cx="313.28" cy="243.18" r="2"/>
<circle cx="313.96" cy="242.90" r="2"/>
<circle cx="314.65" cy="242.71" r="2"/>
<circle cx="315.33" cy="242.58" r="2"/>
<circle cx="316.02" cy="242.49" r="2"/>
<circle cx="316.71" cy="242.41" r="2"/>
<circle cx="317.39" cy="242.34" r="2"/>
<circle cx="318.08" cy="242.24" r="2"/>
<circle cx="318.77" cy="242.10" r="2"/>
<circle cx="319.45" cy="241.92" r="2"/>
<circle cx="320.14" cy="241.67" r="2"/>
<circle cx="320.83" cy="241.36" r="2"/>
<circle cx="321.51" cy="241.00" r="2"/>
<circle cx="322.20" cy="240.57" r="2"/>
<circle cx="322.89" cy="240.11" r="2"/>
<circle cx="323.57" cy="239.61" r="2"/>
<circle cx="324.26" cy="239.10" r="2"/>
<circle cx="324.95" cy="238.59" r="2"/>
<circle cx="325.63" cy="238.12" r="2"/>
<circle cx="326.32" cy="237.70" r="2"/>
<circle cx="327.01" cy="237.36" r="2"/>
<circle cx="327.69" cy="237.12" r="2"/>
<circle cx="328.38" cy="237.02" r="2"/>
<circle cx="329.06" cy="237.07" r="2"/>
<circle cx="329.75" cy="237.30" r="2"/>
<circle cx="330.44" cy="237.71" r="2"/>
<circle cx="331.12" cy="238.33" r="2"/>
<circle cx="331.81" cy="239.17" r="2"/>
<circle cx="332.50" cy="240.23" r="2"/>
<circle cx="333.18" cy="241.52" r="2"/>
<circle cx="333.87" cy="243.03" r="2"/>
<circle cx="334.56" cy="244.75" r="2"/>
<circle cx="335.24" cy="246.68" r="2"/>
<circle cx="335.93" cy="248.80" r="2"/>
<circle cx="336.62" cy="251.10" r="2"/>
<circle cx="337.30" cy="253.54" r="2"/>
<circle cx="337.99" cy="256.12" r="2"/>
<circle cx="338.68" cy="258.81" r="2"/>
<circle cx="339.36" cy="261.58" r="2"/>
<circle cx="340.05" cy="264.41" r="2"/>
<circle cx="340.74" cy="267.28" r="2"/>
<circle cx="341.42" cy="270.15" r="2"/>
<circle cx="342.11" cy="273.01" r="2"/>
<circle cx="342.79" cy="275.83" r="2"/>
<circle cx="343.48" cy="278.61" r="2"/>
<circle cx="344.17" cy="281.30" r="2"/>
<circle cx="344.85" cy="283.92" r="2"/>
<circle cx="345.54" cy="286.43" r="2"/>
<circle cx="346.23" cy="288.83" r="2"/>
<circle cx="346.91" cy="291.12" r="2"/>
<circle cx="347.60" cy="293.28" r="2"/>
<circle cx="348.29" cy="295.31" r="2"/>
<circle cx="348.97" cy="297.22" r="2"/>
<circle cx="349.66" cy="298.99" r="2"/>
<circle cx="350.35" cy="300.63" r="2"/>
<circle cx="351.03" cy="302.14" r="2"/>
<circle cx="351.72" cy="303.53" r="2"/>
<circle cx="352.41" cy="304.80" r="2"/>
<circle cx="353.09" cy="305.95" r="2"/>
<circle cx="353.78" cy="306.99" r="2"/>
<circle cx="354.47" cy="307.92" r="2"/>
<circle cx="355.15" cy="308.74" r="2"/>
<circle cx="355.84" cy="309.45" r="2"/>
<circle cx="356.52" cy="310.07" r="2"/>
<circle cx="357.21" cy="310.58" r="2"/>
<circle cx="357.90" cy="311.00" r="2"/>
<circle cx="358.58" cy="311.31" r="2"/>
<circle cx="359.27" cy="311.53" r="2"/>
<circle cx="359.96" cy="311.65" r="2"/>
<circle cx="360.64" cy="311.66" r="2"/>
<circle cx="361.33" cy="311.57" r="2"/>
<circle cx="362.02" cy="311.37" r="2"/>
<circle cx="362.70" cy="311.05" r="2"/>
<circle cx="363.39" cy="310.63" r="2"/>
<circle cx="364.08" cy="310.08" r="2"/>
<circle cx="364.76" cy="309.41" r="2"/>
<circle cx="365.45" cy="308.61" r="2"/>
<circle cx="366.14" cy="307.69" r="2"/>
<circle cx="366.82" cy="306.64" r="2"/>
<circle cx="367.51" cy="305.47" r="2"/>
<circle cx="368.20" cy="304.16" r="2"/>
<circle cx="368.88" cy="302.74" r="2"/>
<circle cx="369.57" cy="301.19" r="2"/>
<circle cx="370.25" cy="299.53" r="2"/>
<circle cx="370.94" cy="297.77" r="2"/>
<circle cx="371.63" cy="295.92" r="2"/>
<circle cx="372.31" cy="293.99" r="2"/>
<circle cx="373.00" cy="292.00" r="2"/>
<circle cx="373.69" cy="289.95" r="2"/>
<circle cx="374.37" cy="287.88" r="2"/>
<circle cx="375.06" cy="285.81" r="2"/>
<circle cx="375.75" cy="283.75" r="2"/>
<circle cx="376.43" cy="281.72" r="2"/>
<circle cx="377.12" cy="279.76" r="2"/>
<circle cx="377.81" cy="277.88" r="2"/>
<circle cx="378.49" cy="276.12" r="2"/>
<circle cx="379.18" cy="274.48" r="2"/>
<circle cx="379.87" cy="273.00" r="2"/>
<circle cx="380.55" cy="271.70" r="2"/>
<circle cx="381.24" cy="270.58" r="2"/>
<circle cx="381.93" cy="269.68" r="2"/>
<circle cx="382.61" cy="269.00" r="2"/>
<circle cx="383.30" cy="268.55" r="2"/>
<circle cx="383.98" cy="268.34" r="2"/>
<circle cx="384.67" cy="268.37" r="2"/>
<circle cx="385.36" cy="268.64" r="2"/>
<circle cx="386.04" cy="269.14" r="2"/>
<circle cx="386.73" cy="269.87" r="2"/>
<circle cx="387.42" cy="270.81" r="2"/>
<circle cx="388.10" cy="271.95" r="2"/>
<circle cx="388.79" cy="273.27" r="2"/>
<circle cx="389.48" cy="274.76" r="2"/>
<circle cx="390.16" cy="276.37" r="2"/>
<circle cx="390.85" cy="278.10" r="2"/>
<circle cx="391.54" cy="279.90" r="2"/>
<circle cx="392.22" cy="281.76" r="2"/>
<circle cx="392.91" cy="283.64" r="2"/>
<circle cx="393.60" cy="285.50" r="2"/>
<circle cx="394.28" cy="287.33" r="2"/>
<circle cx="394.97" cy="289.08" r="2"/>
<circle cx="395.66" cy="290.73" r="2"/>
<circle cx="396.34" cy="292.24" r="2"/>
<circle cx="397.03" cy="293.58" r="2"/>
<circle cx="397.71" cy="294.72" r="2"/>
<circle cx="398.40" cy="295.63" r="2"/>
<circle cx="399.09" cy="296.27" r="2"/>
<circle cx="399.77" cy="296.62" r="2"/>
<circle cx="400.46" cy="296.64" r="2"/>
<circle cx="401.15" cy="296.31" r="2"/>
<circle cx="401.83" cy="295.59" r="2"/>
<circle cx="402.52" cy="294.45" r="2"/>
<circle cx="403.21" cy="292.87" r="2"/>
<circle cx="403.89" cy="290.82" r="2"/>
<circle cx="404.58" cy="288.27" r="2"/>
<circle cx="405.27" cy="285.20" r="2"/>
<circle cx="405.95" cy="281.59" r="2"/>
<circle cx="406.64" cy="277.43" r="2"/>
<circle cx="407.33" cy="272.69" r="2"/>
<circle cx="408.01" cy="267.37" r="2"/>
<circle cx="408.70" cy="261.48" r="2"/>
<circle cx="409.39" cy="255.01" r="2"/>
<circle cx="410.07" cy="247.98" r="2"/>
<circle cx="410.76" cy="240.40" r="2"/>
<circle cx="411.44" cy="232.32" r="2"/>
<circle cx="412.13" cy="223.77" r="2"/>
<circle cx="412.82" cy="214.80" r="2"/>
<circle cx="413.50" cy="205.47" r="2"/>
<circle cx="414.19" cy="195.86" r="2"/>
<circle cx="414.88" cy="186.03" r="2"/>
<circle cx="415.56" cy="176.08" r="2"/>
<circle cx="416.25" cy="166.11" r="2"/>
<circle cx="416.94" cy="156.22" r="2"/>
<circle cx="417.62" cy="146.52" r="2"/>
<circle cx="418.31" cy="137.12" r="2"/>
<circle cx="419.00" cy="128.13" r="2"/>
<circle cx="419.68" cy="119.67" r="2"/>
<circle cx="420.37" cy="111.84" r="2"/>
<circle cx="421.06" cy="104.75" r="2"/>
<circle cx="421.74" cy="98.50" r="2"/>
<circle cx="422.43" cy="93.16" r="2"/>
<circle cx="423.12" cy="88.83" r="2"/>
<circle cx="423.80" cy="85.56" r="2"/>
<circle cx="424.49" cy="83.40" r="2"/>
<circle cx="425.17" cy="82.37" r="2"/>
<circle cx="425.86" cy="82.50" r="2"/>
<circle cx="426.55" cy="83.79" r="2"/>
<circle cx="427.23" cy="86.20" r="2"/>
<circle cx="427.92" cy="89.72" r="2"/>
<circle cx="428.61" cy="94.28" r="2"/>
<circle cx="429.29" cy="99.82" r="2"/>
<circle cx="429.98" cy="106.27" r="2"/>
<circle cx="430.67" cy="113.52" r="2"/>
<circle cx="431.35" cy="121.50" r="2"/>
<circle cx="432.04" cy="130.08" r="2"/>
<circle cx="432.73" cy="139.16" r="2"/>
<circle cx="433.41" cy="148.62" r="2"/>
<circle cx="434.10" cy="158.37" r="2"/>
<circle cx="434.79" cy="168.28" r="2"/>
<circle cx="435.47" cy="178.24" r="2"/>
<circle cx="436.16" cy="188.17" r="2"/>
<circle cx="436.85" cy="197.97" r="2"/>
<circle cx="437.53" cy="207.55" r="2"/>
<circle cx="438.22" cy="216.84" r="2"/>
<circle cx="438.90" cy="225.78" r="2"/>
<circle cx="439.59" cy="234.30" r="2"/>
<circle cx="440.28" cy="242.38" r="2"/>
<circle cx="440.96" cy="249.97" r="2"/>
<circle cx="441.65" cy="257.06" r="2"/>
<circle cx="442.34" cy="263.63" r="2"/>
<circle cx="443.02" cy="269.67" r="2"/>
<circle cx="443.71" cy="275.19" r="2"/>
<circle cx="444.40" cy="280.19" r="2"/>
<circle cx="445.08" cy="284.70" r="2"/>
<circle cx="445.77" cy="288.72" r="2"/>
<circle cx="446.46" cy="292.29" r="2"/>
<circle cx="447.14" cy="295.43" r="2"/>
<circle cx="447.83" cy="298.15" r="2"/>
<circle cx="448.52" cy="300.50" r="2"/>
<circle cx="449.20" cy="302.49" r="2"/>
<circle cx="449.89" cy="304.15" r="2"/>
<circle cx="450.58" cy="305.51" r="2"/>
<circle cx="451.26" cy="306.58" r="2"/>
<circle cx="451.95" cy="307.38" r="2"/>
<circle cx="452.63" cy="307.92" r="2"/>
<circle cx="453.32" cy="308.23" r="2"/>
<circle cx="454.01" cy="308.30" r="2"/>
<circle cx="454.69" cy="308.13" r="2"/>
<circle cx="455.38" cy="307.74" r="2"/>
<circle cx="456.07" cy="307.12" r="2"/>
<circle cx="456.75" cy="306.26" r="2"/>
<circle cx="457.44" cy="305.16" r="2"/>
<circle cx="458.13" cy="303.79" r="2"/>
<circle cx="458.81" cy="302.17" r="2"/>
<circle cx="459.50" cy="300.25" r="2"/>
<circle cx="460.19" cy="298.05" r="2"/>
<circle cx="460.87" cy="295.53" r="2"/>
<circle cx="461.56" cy="292.69" r="2"/>
<circle cx="462.25" cy="289.51" r="2"/>
<circle cx="462.93" cy="285.99" r="2"/>
<circle cx="463.62" cy="282.12" r="2"/>
<circle cx="464.31" cy="277.90" r="2"/>
<circle cx="464.99" cy="273.32" r="2"/>
<circle cx="465.68" cy="268.40" r="2"/>
<circle cx="466.36" cy="263.16" r="2"/>
<circle cx="467.05" cy="257.60" r="2"/>
<circle cx="467.74" cy="251.76" r="2"/>
<circle cx="468.42" cy="245.66" r="2"/>
<circle cx="469.11" cy="239.37" r="2"/>
<circle cx="469.80" cy="232.91" r="2"/>
<circle cx="470.48" cy="226.34" r="2"/>
<circle cx="471.17" cy="219.72" r="2"/>
<circle cx="471.86" cy="213.13" r="2"/>
<circle cx="472.54" cy="206.62" r="2"/>
<circle cx="473.23" cy="200.28" r="2"/>
<circle cx="473.92" cy="194.17" r="2"/>
<circle cx="474.60" cy="188.37" r="2"/>
<circle cx="475.29" cy="182.96" r="2"/>
<circle cx="475.98" cy="178.00" r="2"/>
<circle cx="476.66" cy="173.57" r="2"/>
<circle cx="477.35" cy="169.72" r="2"/>
<circle cx="478.04" cy="166.51" r="2"/>
<circle cx="478.72" cy="163.98" r="2"/>
<circle cx="479.41" cy="162.18" r="2"/>
<circle cx="480.09" cy="161.13" r="2"/>
<circle cx="480.78" cy="160.84" r="2"/>
<circle cx="481.47" cy="161.33" r="2"/>
<circle cx="482.15" cy="162.57" r="2"/>
<circle cx="482.84" cy="164.56" r="2"/>
<circle cx="483.53" cy="167.25" r="2"/>
<circle cx="484.21" cy="170.63" r="2"/>
<circle cx="484.90" cy="174.62" r="2"/>
<circle cx="485.59" cy="179.19" r="2"/>
<circle cx="486.27" cy="184.25" r="2"/>
<circle cx="486.96" cy="189.74" r="2"/>
<circle cx="487.65" cy="195.59" r="2"/>
<circle cx="488.33" cy="201.72" r="2"/>
<circle cx="489.02" cy="208.05" r="2"/>
<circle cx="489.71" cy="214.50" r="2"/>
<circle cx="490.39" cy="221.00" r="2"/>
<circle cx="491.08" cy="227.46" r="2"/>
<circle cx="491.77" cy="233.83" r="2"/>
<circle cx="492.45" cy="240.02" r="2"/>
<circle cx="493.14" cy="245.98" r="2"/>
<circle cx="493.82" cy="251.66" r="2"/>
<circle cx="494.51" cy="257.00" r="2"/>
<circle cx="495.20" cy="261.96" r="2"/>
<circle cx="495.88" cy="266.51" r="2"/>
<circle cx="496.57" cy="270.61" r="2"/>
<circle cx="497.26" cy="274.23" r="2"/>
<circle cx="497.94" cy="277.36" r="2"/>
<circle cx="498.63" cy="279.99" r="2"/>
<circle cx="499.32" cy="282.10" r="2"/>
<circle cx="500.00" cy="283.69" r="2"/>
<circle cx="500.69" cy="284.77" r="2"/>
<circle cx="501.38" cy="285.33" r="2"/>
<circle cx="502.06" cy="285.38" r="2"/>
<circle cx="502.75" cy="284.94" r="2"/>
<circle cx="503.44" cy="284.02" r="2"/>
<circle cx="504.12" cy="282.65" r="2"/>
<circle cx="504.81" cy="280.83" r="2"/>
<circle cx="505.50" cy="278.62" r="2"/>
<circle cx="506.18" cy="276.02" r="2"/>
<circle cx="506.87" cy="273.08" r="2"/>
<circle cx="507.55" cy="269.83" r="2"/>
<circle cx="508.24" cy="266.32" r="2"/>
<circle cx="508.93" cy="262.58" r="2"/>
<circle cx="509.61" cy="258.67" r="2"/>
<circle cx="510.30" cy="254.64" r="2"/>
<circle cx="510.99" cy="250.54" r="2"/>
<circle cx="511.67" cy="246.41" r="2"/>
<circle cx="512.36" cy="242.33" r="2"/>
<circle cx="513.05" cy="238.34" r="2"/>
<circle cx="513.73" cy="234.50" r="2"/>
<circle cx="514.42" cy="230.86" r="2"/>
<circle cx="515.11" cy="227.48" r="2"/>
<circle cx="515.79" cy="224.41" r="2"/>
<circle cx="516.48" cy="221.70" r="2"/>
<circle cx="517.17" cy="219.37" r="2"/>
<circle cx="517.85" cy="217.48" r="2"/>
<circle cx="518.54" cy="216.05" r="2"/>
<circle cx="519.23" cy="215.09" r="2"/>
<circle cx="519.91" cy="214.64" r="2"/>
<circle cx="520.60" cy="214.70" r="2"/>
<circle cx="521.28" cy="215.26" r="2"/>
<circle cx="521.97" cy="216.32" r="2"/>
<circle cx="522.66" cy="217.86" r="2"/>
<circle cx="523.34" cy="219.86" r="2"/>
<circle cx="524.03" cy="222.30" r="2"/>
<circle cx="524.72" cy="225.14" r="2"/>
<circle cx="525.40" cy="228.35" r="2"/>
<circle cx="526.09" cy="231.86" r="2"/>
<circle cx="526.78" cy="235.66" r="2"/>
<circle cx="527.46" cy="239.67" r="2"/>
<circle cx="528.15" cy="243.86" r="2"/>
<circle cx="528.84" cy="248.18" r="2"/>
<circle cx="529.52" cy="252.57" r="2"/>
<circle cx="530.21" cy="257.00" r="2"/>
<circle cx="530.90" cy="261.41" r="2"/>
<circle cx="531.58" cy="265.77" r="2"/>
<circle cx="532.27" cy="270.03" r="2"/>
<circle cx="532.96" cy="274.18" r="2"/>
<circle cx="533.64" cy="278.17" r="2"/>
<circle cx="534.33" cy="281.99" r="2"/>
<circle cx="535.01" cy="285.61" r="2"/>
<circle cx="535.70" cy="289.02" r="2"/>
<circle cx="536.39" cy="292.22" r="2"/>
<circle cx="537.07" cy="295.19" r="2"/>
<circle cx="537.76" cy="297.93" r="2"/>
<circle cx="538.45" cy="300.44" r="2"/>
<circle cx="539.13" cy="302.73" r="2"/>
<circle cx="539.82" cy="304.81" r="2"/>
<circle cx="540.51" cy="306.67" r="2"/>
<circle cx="541.19" cy="308.34" r="2"/>
<circle cx="541.88" cy="309.83" r="2"/>
<circle cx="542.57" cy="311.14" r="2"/>
<circle cx="543.25" cy="312.30" r="2"/>
<circle cx="543.94" cy="313.31" r="2"/>
<circle cx="544.63" cy="314.18" r="2"/>
<circle cx="545.31" cy="314.94" r="2"/>
<circle cx="546.00" cy="315.59" r="2"/>
<circle cx="546.69" cy="316.15" r="2"/>
<circle cx="547.37" cy="316.62" r="2"/>
<circle cx="548.06" cy="317.02" r="2"/>
<circle cx="548.74" cy="317.35" r="2"/>
<circle cx="549.43" cy="317.63" r="2"/>
<circle cx="550.12" cy="317.86" r="2"/>
<circle cx="550.80" cy="318.06" r="2"/>
<circle cx="551.49" cy="318.21" r="2"/>
<circle cx="552.18" cy="318.34" r="2"/>
<circle cx="552.86" cy="318.45" r="2"/>
<circle cx="553.55" cy="318.53" r="2"/>
<circle cx="554.24" cy="318.60" r="2"/>
<circle cx="554.92" cy="318.65" r="2"/>
<circle cx="555.61" cy="318.70" r="2"/>
<circle cx="556.30" cy="318.73" r="2"/>
<circle cx="556.98" cy="318.76" r="2"/>
<circle cx="557.67" cy="318.78" r="2"/>
<circle cx="558.36" cy="318.80" r="2"/>
<circle cx="559.04" cy="318.81" r="2"/>
<circle cx="559.73" cy="318.82" r="2"/>
<circle cx="560.42" cy="318.83" r="2"/>
<circle cx="561.10" cy="318.83" r="2"/>
<circle cx="561.79" cy="318.84" r="2"/>
<circle cx="562.47" cy="318.84" r="2"/>
<circle cx="563.16" cy="318.84" r="2"/>
<circle cx="563.85" cy="318.84" r="2"/>
<circle cx="564.53" cy="318.85" r="2"/>
<circle cx="565.22" cy="318.85" r="2"/>
<circle cx="565.91" cy="318.85" r="2"/>
<circle cx="566.59" cy="318.85" r="2"/>
<circle cx="567.28" cy="318.85" r="2"/>
<circle cx="567.97" cy="318.85" r="2"/>
<circle cx="568.65" cy="318.85" r="2"/>
<circle cx="569.34" cy="318.85" r="2"/>
<circle cx="570.03" cy="318.85" r="2"/>
<circle cx="570.71" cy="318.85" r="2"/>
<circle cx="571.40" cy="318.85" r="2"/>
<circle cx="572.09" cy="318.85" r="2"/>
<circle cx="572.77" cy="318.84" r="2"/>
<circle cx="573.46" cy="318.84" r="2"/>
<circle cx="574.15" cy="318.84" r="2"/>
<circle cx="574.83" cy="318.84" r="2"/>
<circle cx="575.52" cy="318.83" r="2"/>
<circle cx="576.20" cy="318.83" r="2"/>
<circle cx="576.89" cy="318.82" r="2"/>
<circle cx="577.58" cy="318.81" r="2"/>
<circle cx="578.26" cy="318.80" r="2"/>
<circle cx="578.95" cy="318.79" r="2"/>
<circle cx="579.64" cy="318.77" r="2"/>
<circle cx="580.32" cy="318.75" r="2"/>
<circle cx="581.01" cy="318.73" r="2"/>
<circle cx="581.70" cy="318.70" r="2"/>
<circle cx="582.38" cy="318.66" r="2"/>
<circle cx="583.07" cy="318.62" r="2"/>
<circle cx="583.76" cy="318.56" r="2"/>
<circle cx="584.44" cy="318.50" r="2"/>
<circle cx="585.13" cy="318.42" r="2"/>
<circle cx="585.82" cy="318.32" r="2"/>
<circle cx="586.50" cy="318.22" r="2"/>
<circle cx="587.19" cy="318.09" r="2"/>
<circle cx="587.88" cy="317.94" r="2"/>
<circle cx="588.56" cy="317.76" r="2"/>
<circle cx="589.25" cy="317.56" r="2"/>
<circle cx="589.93" cy="317.33" r="2"/>
<circle cx="590.62" cy="317.07" r="2"/>
<circle cx="591.31" cy="316.77" r="2"/>
<circle cx="591.99" cy="316.44" r="2"/>
<circle cx="592.68" cy="316.06" r="2"/>
<circle cx="593.37" cy="315.64" r="2"/>
<circle cx="594.05" cy="315.18" r="2"/>
<circle cx="594.74" cy="314.67" r="2"/>
<circle cx="595.43" cy="314.11" r="2"/>
<circle cx="596.11" cy="313.51" r="2"/>
<circle cx="596.80" cy="312.85" r="2"/>
<circle cx="597.49" cy="312.15" r="2"/>
<circle cx="598.17" cy="311.41" r="2"/>
<circle cx="598.86" cy="310.62" r="2"/>
<circle cx="599.55" cy="309.79" r="2"/>
<circle cx="600.23" cy="308.93" r="2"/>
<circle cx="600.92" cy="308.04" r="2"/>
<circle cx="601.61" cy="307.13" r="2"/>
<circle cx="602.29" cy="306.20" r="2"/>
<circle cx="602.98" cy="305.26" r="2"/>
<circle cx="603.66" cy="304.33" r="2"/>
<circle cx="604.35" cy="303.41" r="2"/>
<circle cx="605.04" cy="302.52" r="2"/>
<circle cx="605.72" cy="301.65" r="2"/>
<circle cx="606.41" cy="300.83" r="2"/>
<circle cx="607.10" cy="300.06" r="2"/>
<circle cx="607.78" cy="299.35" r="2"/>
<circle cx="608.47" cy="298.72" r="2"/>
<circle cx="609.16" cy="298.17" r="2"/>
<circle cx="609.84" cy="297.70" r="2"/>
<circle cx="610.53" cy="297.34" r="2"/>
<circle cx="611.22" cy="297.07" r="2"/>
<circle cx="611.90" cy="296.91" r="2"/>
<circle cx="612.59" cy="296.85" r="2"/>
<circle cx="613.28" cy="296.90" r="2"/>
<circle cx="613.96" cy="297.06" r="2"/>
<circle cx="614.65" cy="297.33" r="2"/>
<circle cx="615.34" cy="297.69" r="2"/>
<circle cx="616.02" cy="298.15" r="2"/>
<circle cx="616.71" cy="298.70" r="2"/>
<circle cx="617.39" cy="299.33" r="2"/>
<circle cx="618.08" cy="300.04" r="2"/>
<circle cx="618.77" cy="300.80" r="2"/>
<circle cx="619.45" cy="301.62" r="2"/>
<circle cx="620.14" cy="302.49" r="2"/>
<circle cx="620.83" cy="303.38" r="2"/>
<circle cx="621.51" cy="304.30" r="2"/>
<circle cx="622.20" cy="305.23" r="2"/>
<circle cx="622.89" cy="306.17" r="2"/>
<circle cx="623.57" cy="307.10" r="2"/>
<circle cx="624.26" cy="308.01" r="2"/>
<circle cx="624.95" cy="308.90" r="2"/>
<circle cx="625.63" cy="309.76" r="2"/>
<circle cx="626.32" cy="310.59" r="2"/>
<circle cx="627.01" cy="311.38" r="2"/>
<circle cx="627.69" cy="312.13" r="2"/>
<circle cx="628.38" cy="312.83" r="2"/>
<circle cx="629.07" cy="313.48" r="2"/>
<circle cx="629.75" cy="314.09" r="2"/>
<circle cx="630.44" cy="314.64" r="2"/>
<circle cx="631.12" cy="315.15" r="2"/>
<circle cx="631.81" cy="315.61" r="2"/>
<circle cx="632.50" cy="316.03" r="2"/>
<circle cx="633.18" cy="316.40" r="2"/>
<circle cx="633.87" cy="316.73" r="2"/>
<circle cx="634.56" cy="317.01" r="2"/>
<circle cx="635.24" cy="317.26" r="2"/>
<circle cx="635.93" cy="317.48" r="2"/>
<circle cx="636.62" cy="317.66" r="2"/>
<circle cx="637.30" cy="317.81" r="2"/>
<circle cx="637.99" cy="317.93" r="2"/>
<circle cx="638.68" cy="318.03" r="2"/>
<circle cx="639.36" cy="318.09" r="2"/>
<circle cx="640.05" cy="318.13" r="2"/>
<circle cx="640.74" cy="318.15" r="2"/>
<circle cx="641.42" cy="318.14" r="2"/>
<circle cx="642.11" cy="318.11" r="2"/>
<circle cx="642.80" cy="318.05" r="2"/>
<circle cx="643.48" cy="317.97" r="2"/>
<circle cx="644.17" cy="317.86" r="2"/>
<circle cx="644.85" cy="317.72" r="2"/>
<circle cx="645.54" cy="317.55" r="2"/>
<circle cx="646.23" cy="317.36" r="2"/>
<circle cx="646.91" cy="317.13" r="2"/>
<circle cx="647.60" cy="316.87" r="2"/>
<circle cx="648.29" cy="316.57" r="2"/>
<circle cx="648.97" cy="316.23" r="2"/>
<circle cx="649.66" cy="315.86" r="2"/>
<circle cx="650.35" cy="315.45" r="2"/>
<circle cx="651.03" cy="314.99" r="2"/>
<circle cx="651.72" cy="314.50" r="2"/>
<circle cx="652.41" cy="313.96" r="2"/>
<circle cx="653.09" cy="313.38" r="2"/>
<circle cx="653.78" cy="312.77" r="2"/>
<circle cx="654.47" cy="312.12" r="2"/>
<circle cx="655.15" cy="311.43" r="2"/>
<circle cx="655.84" cy="310.71" r="2"/>
<circle cx="656.53" cy="309.97" r="2"/>
<circle cx="657.21" cy="309.21" r="2"/>
<circle cx="657.90" cy="308.43" r="2"/>
<circle cx="658.58" cy="307.65" r="2"/>
<circle cx="659.27" cy="306.86" r="2"/>
<circle cx="659.96" cy="306.08" r="2"/>
<circle cx="660.64" cy="305.32" r="2"/>
<circle cx="661.33" cy="304.59" r="2"/>
<circle cx="662.02" cy="303.89" r="2"/>
<circle cx="662.70" cy="303.23" r="2"/>
<circle cx="663.39" cy="302.62" r="2"/>
<circle cx="664.08" cy="302.07" r="2"/>
<circle cx="664.76" cy="301.58" r="2"/>
<circle cx="665.45" cy="301.17" r="2"/>
<circle cx="666.14" cy="300.84" r="2"/>
<circle cx="666.82" cy="300.59" r="2"/>
<circle cx="667.51" cy="300.43" r="2"/>
<circle cx="668.20" cy="300.35" r="2"/>
<circle cx="668.88" cy="300.37" r="2"/>
<circle cx="669.57" cy="300.48" r="2"/>
<circle cx="670.26" cy="300.68" r="2"/>
<circle cx="670.94" cy="300.96" r="2"/>
<circle cx="671.63" cy="301.33" r="2"/>
<circle cx="672.31" cy="301.77" r="2"/>
<circle cx="673.00" cy="302.28" r="2"/>
<circle cx="673.69" cy="302.86" r="2"/>
<circle cx="674.37" cy="303.49" r="2"/>
<circle cx="675.06" cy="304.17" r="2"/>
<circle cx="675.75" cy="304.88" r="2"/>
<circle cx="676.43" cy="305.63" r="2"/>
<circle cx="677.12" cy="306.40" r="2"/>
<circle cx="677.81" cy="307.18" r="2"/>
<circle cx="678.49" cy="307.96" r="2"/>
<circle cx="679.18" cy="308.75" r="2"/>
<circle cx="679.87" cy="309.52" r="2"/>
<circle cx="680.55" cy="310.27" r="2"/>
<circle cx="681.24" cy="311.01" r="2"/>
<circle cx="681.93" cy="311.71" r="2"/>
<circle cx="682.61" cy="312.39" r="2"/>
<circle cx="683.30" cy="313.02" r="2"/>
<circle cx="683.99" cy="313.63" r="2"/>
<circle cx="684.67" cy="314.19" r="2"/>
<circle cx="685.36" cy="314.71" r="2"/>
<circle cx="686.04" cy="315.19" r="2"/>
<circle cx="686.73" cy="315.63" r="2"/>
<circle cx="687.42" cy="316.04" r="2"/>
<circle cx="688.10" cy="316.40" r="2"/>
<circle cx="688.79" cy="316.73" r="2"/>
<circle cx="689.48" cy="317.02" r="2"/>
<circle cx="690.16" cy="317.28" r="2"/>
<circle cx="690.85" cy="317.51" r="2"/>
<circle cx="691.54" cy="317.71" r="2"/>
<circle cx="692.22" cy="317.89" r="2"/>
<circle cx="692.91" cy="318.04" r="2"/>
<circle cx="693.60" cy="318.17" r="2"/>
<circle cx="694.28" cy="318.28" r="2"/>
<circle cx="694.97" cy="318.38" r="2"/>
<circle cx="695.66" cy="318.46" r="2"/>
<circle cx="696.34" cy="318.53" r="2"/>
<circle cx="697.03" cy="318.59" r="2"/>
<circle cx="697.72" cy="318.64" r="2"/>
</g>
</svg></body></html>
